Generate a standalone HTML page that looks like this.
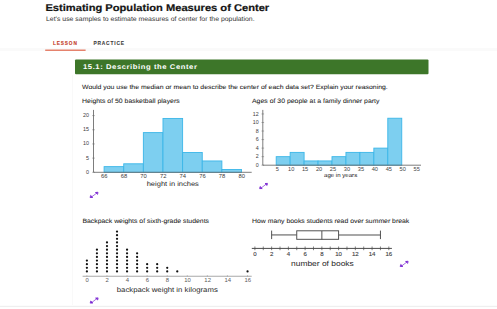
<!DOCTYPE html>
<html><head><meta charset="utf-8"><style>
html,body{margin:0;padding:0;background:#fff;width:497px;height:309px;overflow:hidden}
svg{position:absolute;left:0;top:0;font-family:"Liberation Sans",sans-serif}
</style></head><body>
<svg width="497" height="309" viewBox="0 0 497 309">
<text x="45.40" y="10.90" font-size="9.8" font-weight="bold" fill="#151515" text-anchor="start" textLength="223.8" lengthAdjust="spacingAndGlyphs" stroke="#151515" stroke-width="0.2" text-rendering="geometricPrecision" >Estimating Population Measures of Center</text>
<text x="46.00" y="20.90" font-size="6.5" font-weight="normal" fill="#383838" text-anchor="start" textLength="208.6" lengthAdjust="spacingAndGlyphs" stroke="#383838" stroke-width="0.03" text-rendering="geometricPrecision" >Let&#8217;s use samples to estimate measures of center for the population.</text>
<text x="53.00" y="44.90" font-size="4.6" font-weight="bold" fill="#c4402a" text-anchor="start" textLength="24.7" lengthAdjust="spacingAndGlyphs" letter-spacing="0.85" stroke="#c4402a" stroke-width="0.12" >LESSON</text>
<rect x="0" y="48" width="497" height="3" fill="#fafafa"/>
<rect x="45.2" y="49.5" width="40.4" height="1.5" fill="#e5826d"/>
<text x="93.40" y="44.90" font-size="4.6" font-weight="bold" fill="#3c3c3c" text-anchor="start" textLength="31.4" lengthAdjust="spacingAndGlyphs" letter-spacing="0.8" stroke="#3c3c3c" stroke-width="0.1" >PRACTICE</text>
<rect x="75" y="59.4" width="353.5" height="14.8" rx="1" fill="#3d7629"/>
<text x="83.00" y="69.20" font-size="6.8" font-weight="bold" fill="#ffffff" text-anchor="start" textLength="114.5" lengthAdjust="spacingAndGlyphs" letter-spacing="0.5" text-rendering="geometricPrecision" >15.1: Describing the Center</text>
<text x="82.00" y="88.90" font-size="6.15" font-weight="normal" fill="#262626" text-anchor="start" textLength="305.8" lengthAdjust="spacingAndGlyphs" stroke="#262626" stroke-width="0.06" text-rendering="geometricPrecision" >Would you use the median or mean to describe the center of each data set? Explain your reasoning.</text>
<text x="82.10" y="102.50" font-size="6.3" font-weight="normal" fill="#262626" text-anchor="start" textLength="97.6" lengthAdjust="spacingAndGlyphs" stroke="#262626" stroke-width="0.06" text-rendering="geometricPrecision" >Heights of 50 basketball players</text>
<text x="252.00" y="102.50" font-size="6.3" font-weight="normal" fill="#262626" text-anchor="start" textLength="127.4" lengthAdjust="spacingAndGlyphs" stroke="#262626" stroke-width="0.06" text-rendering="geometricPrecision" >Ages of 30 people at a family dinner party</text>
<text x="82.40" y="222.80" font-size="6.3" font-weight="normal" fill="#262626" text-anchor="start" textLength="126.6" lengthAdjust="spacingAndGlyphs" stroke="#262626" stroke-width="0.06" text-rendering="geometricPrecision" >Backpack weights of sixth-grade students</text>
<text x="252.10" y="222.80" font-size="6.3" font-weight="normal" fill="#262626" text-anchor="start" textLength="157.2" lengthAdjust="spacingAndGlyphs" stroke="#262626" stroke-width="0.06" text-rendering="geometricPrecision" >How many books students read over summer break</text>
<rect x="104.10" y="166.63" width="19.63" height="5.67" fill="#7dcff0" stroke="#3bb6e8" stroke-width="0.9"/>
<rect x="123.73" y="163.80" width="19.63" height="8.50" fill="#7dcff0" stroke="#3bb6e8" stroke-width="0.9"/>
<rect x="143.36" y="132.61" width="19.63" height="39.69" fill="#7dcff0" stroke="#3bb6e8" stroke-width="0.9"/>
<rect x="162.99" y="118.44" width="19.63" height="53.87" fill="#7dcff0" stroke="#3bb6e8" stroke-width="0.9"/>
<rect x="182.62" y="152.46" width="19.63" height="19.84" fill="#7dcff0" stroke="#3bb6e8" stroke-width="0.9"/>
<rect x="202.25" y="160.96" width="19.63" height="11.34" fill="#7dcff0" stroke="#3bb6e8" stroke-width="0.9"/>
<rect x="221.88" y="169.47" width="19.63" height="2.83" fill="#7dcff0" stroke="#3bb6e8" stroke-width="0.9"/>
<line x1="93.5" y1="109.9" x2="93.5" y2="172.3" stroke="#666666" stroke-width="0.85"/>
<line x1="93.5" y1="172.3" x2="251.7" y2="172.3" stroke="#666666" stroke-width="0.85"/>
<line x1="92.2" y1="172.30" x2="94.8" y2="172.30" stroke="#666666" stroke-width="0.5"/>
<text x="89.10" y="173.80" font-size="5.3" font-weight="normal" fill="#3c3c3c" text-anchor="end" textLength="3.0" lengthAdjust="spacingAndGlyphs" >0</text>
<line x1="92.2" y1="158.12" x2="94.8" y2="158.12" stroke="#666666" stroke-width="0.5"/>
<text x="89.10" y="159.62" font-size="5.3" font-weight="normal" fill="#3c3c3c" text-anchor="end" textLength="3.0" lengthAdjust="spacingAndGlyphs" >5</text>
<line x1="92.2" y1="143.95" x2="94.8" y2="143.95" stroke="#666666" stroke-width="0.5"/>
<text x="89.10" y="145.45" font-size="5.3" font-weight="normal" fill="#3c3c3c" text-anchor="end" textLength="6.0" lengthAdjust="spacingAndGlyphs" >10</text>
<line x1="92.2" y1="129.78" x2="94.8" y2="129.78" stroke="#666666" stroke-width="0.5"/>
<text x="89.10" y="131.28" font-size="5.3" font-weight="normal" fill="#3c3c3c" text-anchor="end" textLength="6.0" lengthAdjust="spacingAndGlyphs" >15</text>
<line x1="92.2" y1="115.60" x2="94.8" y2="115.60" stroke="#666666" stroke-width="0.5"/>
<text x="89.10" y="117.10" font-size="5.3" font-weight="normal" fill="#3c3c3c" text-anchor="end" textLength="6.0" lengthAdjust="spacingAndGlyphs" >20</text>
<text x="104.30" y="177.60" font-size="4.9" font-weight="normal" fill="#383838" text-anchor="middle" textLength="6.5" lengthAdjust="spacingAndGlyphs" >66</text>
<text x="123.93" y="177.60" font-size="4.9" font-weight="normal" fill="#383838" text-anchor="middle" textLength="6.5" lengthAdjust="spacingAndGlyphs" >68</text>
<text x="143.56" y="177.60" font-size="4.9" font-weight="normal" fill="#383838" text-anchor="middle" textLength="6.5" lengthAdjust="spacingAndGlyphs" >70</text>
<text x="163.19" y="177.60" font-size="4.9" font-weight="normal" fill="#383838" text-anchor="middle" textLength="6.5" lengthAdjust="spacingAndGlyphs" >72</text>
<text x="182.82" y="177.60" font-size="4.9" font-weight="normal" fill="#383838" text-anchor="middle" textLength="6.5" lengthAdjust="spacingAndGlyphs" >74</text>
<text x="202.45" y="177.60" font-size="4.9" font-weight="normal" fill="#383838" text-anchor="middle" textLength="6.5" lengthAdjust="spacingAndGlyphs" >76</text>
<text x="222.08" y="177.60" font-size="4.9" font-weight="normal" fill="#383838" text-anchor="middle" textLength="6.5" lengthAdjust="spacingAndGlyphs" >78</text>
<text x="241.71" y="177.60" font-size="4.9" font-weight="normal" fill="#383838" text-anchor="middle" textLength="6.5" lengthAdjust="spacingAndGlyphs" >80</text>
<text x="146.70" y="185.60" font-size="6.6" font-weight="normal" fill="#262626" text-anchor="start" textLength="52.2" lengthAdjust="spacingAndGlyphs" text-rendering="geometricPrecision" >height in inches</text>
<rect x="276.20" y="156.66" width="13.95" height="8.54" fill="#7dcff0" stroke="#3bb6e8" stroke-width="0.9"/>
<rect x="290.15" y="152.39" width="13.95" height="12.81" fill="#7dcff0" stroke="#3bb6e8" stroke-width="0.9"/>
<rect x="304.10" y="160.93" width="13.95" height="4.27" fill="#7dcff0" stroke="#3bb6e8" stroke-width="0.9"/>
<rect x="318.05" y="160.93" width="13.95" height="4.27" fill="#7dcff0" stroke="#3bb6e8" stroke-width="0.9"/>
<rect x="332.00" y="156.66" width="13.95" height="8.54" fill="#7dcff0" stroke="#3bb6e8" stroke-width="0.9"/>
<rect x="345.95" y="152.39" width="13.95" height="12.81" fill="#7dcff0" stroke="#3bb6e8" stroke-width="0.9"/>
<rect x="359.90" y="152.39" width="13.95" height="12.81" fill="#7dcff0" stroke="#3bb6e8" stroke-width="0.9"/>
<rect x="373.85" y="148.12" width="13.95" height="17.08" fill="#7dcff0" stroke="#3bb6e8" stroke-width="0.9"/>
<rect x="387.80" y="118.23" width="13.95" height="46.97" fill="#7dcff0" stroke="#3bb6e8" stroke-width="0.9"/>
<line x1="262.8" y1="109.9" x2="262.8" y2="165.2" stroke="#666666" stroke-width="0.85"/>
<line x1="262.8" y1="165.2" x2="421" y2="165.2" stroke="#666666" stroke-width="0.85"/>
<line x1="261.5" y1="165.20" x2="264.1" y2="165.20" stroke="#666666" stroke-width="0.5"/>
<text x="258.60" y="167.00" font-size="5.0" font-weight="normal" fill="#3c3c3c" text-anchor="end" textLength="2.95" lengthAdjust="spacingAndGlyphs" >0</text>
<line x1="261.5" y1="156.66" x2="264.1" y2="156.66" stroke="#666666" stroke-width="0.5"/>
<text x="258.60" y="158.46" font-size="5.0" font-weight="normal" fill="#3c3c3c" text-anchor="end" textLength="2.95" lengthAdjust="spacingAndGlyphs" >2</text>
<line x1="261.5" y1="148.12" x2="264.1" y2="148.12" stroke="#666666" stroke-width="0.5"/>
<text x="258.60" y="149.92" font-size="5.0" font-weight="normal" fill="#3c3c3c" text-anchor="end" textLength="2.95" lengthAdjust="spacingAndGlyphs" >4</text>
<line x1="261.5" y1="139.58" x2="264.1" y2="139.58" stroke="#666666" stroke-width="0.5"/>
<text x="258.60" y="141.38" font-size="5.0" font-weight="normal" fill="#3c3c3c" text-anchor="end" textLength="2.95" lengthAdjust="spacingAndGlyphs" >6</text>
<line x1="261.5" y1="131.04" x2="264.1" y2="131.04" stroke="#666666" stroke-width="0.5"/>
<text x="258.60" y="132.84" font-size="5.0" font-weight="normal" fill="#3c3c3c" text-anchor="end" textLength="2.95" lengthAdjust="spacingAndGlyphs" >8</text>
<line x1="261.5" y1="122.50" x2="264.1" y2="122.50" stroke="#666666" stroke-width="0.5"/>
<text x="258.60" y="124.30" font-size="5.0" font-weight="normal" fill="#3c3c3c" text-anchor="end" textLength="5.9" lengthAdjust="spacingAndGlyphs" >10</text>
<line x1="261.5" y1="113.96" x2="264.1" y2="113.96" stroke="#666666" stroke-width="0.5"/>
<text x="258.60" y="115.76" font-size="5.0" font-weight="normal" fill="#3c3c3c" text-anchor="end" textLength="5.9" lengthAdjust="spacingAndGlyphs" >12</text>
<text x="277.20" y="170.60" font-size="5.2" font-weight="normal" fill="#454545" text-anchor="middle" textLength="3.15" lengthAdjust="spacingAndGlyphs" >5</text>
<text x="291.15" y="170.60" font-size="5.2" font-weight="normal" fill="#454545" text-anchor="middle" textLength="6.3" lengthAdjust="spacingAndGlyphs" >10</text>
<text x="305.10" y="170.60" font-size="5.2" font-weight="normal" fill="#454545" text-anchor="middle" textLength="6.3" lengthAdjust="spacingAndGlyphs" >15</text>
<text x="319.05" y="170.60" font-size="5.2" font-weight="normal" fill="#454545" text-anchor="middle" textLength="6.3" lengthAdjust="spacingAndGlyphs" >20</text>
<text x="333.00" y="170.60" font-size="5.2" font-weight="normal" fill="#454545" text-anchor="middle" textLength="6.3" lengthAdjust="spacingAndGlyphs" >25</text>
<text x="346.95" y="170.60" font-size="5.2" font-weight="normal" fill="#454545" text-anchor="middle" textLength="6.3" lengthAdjust="spacingAndGlyphs" >30</text>
<text x="360.90" y="170.60" font-size="5.2" font-weight="normal" fill="#454545" text-anchor="middle" textLength="6.3" lengthAdjust="spacingAndGlyphs" >35</text>
<text x="374.85" y="170.60" font-size="5.2" font-weight="normal" fill="#454545" text-anchor="middle" textLength="6.3" lengthAdjust="spacingAndGlyphs" >40</text>
<text x="388.80" y="170.60" font-size="5.2" font-weight="normal" fill="#454545" text-anchor="middle" textLength="6.3" lengthAdjust="spacingAndGlyphs" >45</text>
<text x="402.75" y="170.60" font-size="5.2" font-weight="normal" fill="#454545" text-anchor="middle" textLength="6.3" lengthAdjust="spacingAndGlyphs" >50</text>
<text x="416.70" y="170.60" font-size="5.2" font-weight="normal" fill="#454545" text-anchor="middle" textLength="6.3" lengthAdjust="spacingAndGlyphs" >55</text>
<text x="324.00" y="177.00" font-size="5.7" font-weight="normal" fill="#262626" text-anchor="start" textLength="33.2" lengthAdjust="spacingAndGlyphs" stroke="#262626" stroke-width="0.03" text-rendering="geometricPrecision" >age in years</text>
<line x1="82.6" y1="276.2" x2="251.7" y2="276.2" stroke="#a8a8a8" stroke-width="1.1"/>
<line x1="86.9" y1="275" x2="86.9" y2="277" stroke="#a8a8a8" stroke-width="0.6"/>
<text x="87.20" y="282.20" font-size="5.3" font-weight="normal" fill="#5a5a5a" text-anchor="middle" textLength="3.3" lengthAdjust="spacingAndGlyphs" >0</text>
<line x1="106.98" y1="275" x2="106.98" y2="277" stroke="#a8a8a8" stroke-width="0.6"/>
<text x="107.28" y="282.20" font-size="5.3" font-weight="normal" fill="#5a5a5a" text-anchor="middle" textLength="3.3" lengthAdjust="spacingAndGlyphs" >2</text>
<line x1="127.06" y1="275" x2="127.06" y2="277" stroke="#a8a8a8" stroke-width="0.6"/>
<text x="127.36" y="282.20" font-size="5.3" font-weight="normal" fill="#5a5a5a" text-anchor="middle" textLength="3.3" lengthAdjust="spacingAndGlyphs" >4</text>
<line x1="147.14" y1="275" x2="147.14" y2="277" stroke="#a8a8a8" stroke-width="0.6"/>
<text x="147.44" y="282.20" font-size="5.3" font-weight="normal" fill="#5a5a5a" text-anchor="middle" textLength="3.3" lengthAdjust="spacingAndGlyphs" >6</text>
<line x1="167.22" y1="275" x2="167.22" y2="277" stroke="#a8a8a8" stroke-width="0.6"/>
<text x="167.52" y="282.20" font-size="5.3" font-weight="normal" fill="#5a5a5a" text-anchor="middle" textLength="3.3" lengthAdjust="spacingAndGlyphs" >8</text>
<line x1="187.3" y1="275" x2="187.3" y2="277" stroke="#a8a8a8" stroke-width="0.6"/>
<text x="187.60" y="282.20" font-size="5.3" font-weight="normal" fill="#5a5a5a" text-anchor="middle" textLength="6.6" lengthAdjust="spacingAndGlyphs" >10</text>
<line x1="207.38" y1="275" x2="207.38" y2="277" stroke="#a8a8a8" stroke-width="0.6"/>
<text x="207.68" y="282.20" font-size="5.3" font-weight="normal" fill="#5a5a5a" text-anchor="middle" textLength="6.6" lengthAdjust="spacingAndGlyphs" >12</text>
<line x1="227.46" y1="275" x2="227.46" y2="277" stroke="#a8a8a8" stroke-width="0.6"/>
<text x="227.76" y="282.20" font-size="5.3" font-weight="normal" fill="#5a5a5a" text-anchor="middle" textLength="6.6" lengthAdjust="spacingAndGlyphs" >14</text>
<line x1="247.54" y1="275" x2="247.54" y2="277" stroke="#a8a8a8" stroke-width="0.6"/>
<text x="247.84" y="282.20" font-size="5.3" font-weight="normal" fill="#5a5a5a" text-anchor="middle" textLength="6.6" lengthAdjust="spacingAndGlyphs" >16</text>
<circle cx="86.90" cy="271.40" r="1.12" fill="#111"/>
<circle cx="86.90" cy="267.78" r="1.12" fill="#111"/>
<circle cx="86.90" cy="264.16" r="1.12" fill="#111"/>
<circle cx="86.90" cy="260.54" r="1.12" fill="#111"/>
<circle cx="96.94" cy="271.40" r="1.12" fill="#111"/>
<circle cx="96.94" cy="267.78" r="1.12" fill="#111"/>
<circle cx="96.94" cy="264.16" r="1.12" fill="#111"/>
<circle cx="96.94" cy="260.54" r="1.12" fill="#111"/>
<circle cx="96.94" cy="256.92" r="1.12" fill="#111"/>
<circle cx="96.94" cy="253.30" r="1.12" fill="#111"/>
<circle cx="96.94" cy="249.68" r="1.12" fill="#111"/>
<circle cx="106.98" cy="271.40" r="1.12" fill="#111"/>
<circle cx="106.98" cy="267.78" r="1.12" fill="#111"/>
<circle cx="106.98" cy="264.16" r="1.12" fill="#111"/>
<circle cx="106.98" cy="260.54" r="1.12" fill="#111"/>
<circle cx="106.98" cy="256.92" r="1.12" fill="#111"/>
<circle cx="106.98" cy="253.30" r="1.12" fill="#111"/>
<circle cx="106.98" cy="249.68" r="1.12" fill="#111"/>
<circle cx="106.98" cy="246.06" r="1.12" fill="#111"/>
<circle cx="106.98" cy="242.44" r="1.12" fill="#111"/>
<circle cx="117.02" cy="271.40" r="1.12" fill="#111"/>
<circle cx="117.02" cy="267.78" r="1.12" fill="#111"/>
<circle cx="117.02" cy="264.16" r="1.12" fill="#111"/>
<circle cx="117.02" cy="260.54" r="1.12" fill="#111"/>
<circle cx="117.02" cy="256.92" r="1.12" fill="#111"/>
<circle cx="117.02" cy="253.30" r="1.12" fill="#111"/>
<circle cx="117.02" cy="249.68" r="1.12" fill="#111"/>
<circle cx="117.02" cy="246.06" r="1.12" fill="#111"/>
<circle cx="117.02" cy="242.44" r="1.12" fill="#111"/>
<circle cx="117.02" cy="238.82" r="1.12" fill="#111"/>
<circle cx="117.02" cy="235.20" r="1.12" fill="#111"/>
<circle cx="117.02" cy="231.58" r="1.12" fill="#111"/>
<circle cx="127.06" cy="271.40" r="1.12" fill="#111"/>
<circle cx="127.06" cy="267.78" r="1.12" fill="#111"/>
<circle cx="127.06" cy="264.16" r="1.12" fill="#111"/>
<circle cx="127.06" cy="260.54" r="1.12" fill="#111"/>
<circle cx="127.06" cy="256.92" r="1.12" fill="#111"/>
<circle cx="127.06" cy="253.30" r="1.12" fill="#111"/>
<circle cx="127.06" cy="249.68" r="1.12" fill="#111"/>
<circle cx="137.10" cy="271.40" r="1.12" fill="#111"/>
<circle cx="137.10" cy="267.78" r="1.12" fill="#111"/>
<circle cx="137.10" cy="264.16" r="1.12" fill="#111"/>
<circle cx="137.10" cy="260.54" r="1.12" fill="#111"/>
<circle cx="137.10" cy="256.92" r="1.12" fill="#111"/>
<circle cx="137.10" cy="253.30" r="1.12" fill="#111"/>
<circle cx="147.14" cy="271.40" r="1.12" fill="#111"/>
<circle cx="147.14" cy="267.78" r="1.12" fill="#111"/>
<circle cx="147.14" cy="264.16" r="1.12" fill="#111"/>
<circle cx="157.18" cy="271.40" r="1.12" fill="#111"/>
<circle cx="157.18" cy="267.78" r="1.12" fill="#111"/>
<circle cx="157.18" cy="264.16" r="1.12" fill="#111"/>
<circle cx="167.22" cy="271.40" r="1.12" fill="#111"/>
<circle cx="167.22" cy="267.78" r="1.12" fill="#111"/>
<circle cx="177.26" cy="271.40" r="1.12" fill="#111"/>
<circle cx="247.54" cy="271.40" r="1.12" fill="#111"/>
<text x="116.80" y="292.00" font-size="6.9" font-weight="normal" fill="#262626" text-anchor="start" textLength="101" lengthAdjust="spacingAndGlyphs" text-rendering="geometricPrecision" >backpack weight in kilograms</text>
<line x1="251.8" y1="248.4" x2="391.9" y2="248.4" stroke="#4a4a4a" stroke-width="1"/>
<line x1="254.90" y1="246.5" x2="254.90" y2="250.2" stroke="#4a4a4a" stroke-width="0.7"/>
<text x="254.90" y="255.70" font-size="4.9" font-weight="normal" fill="#3e3e3e" text-anchor="middle" textLength="3.4" lengthAdjust="spacingAndGlyphs" stroke="#3e3e3e" stroke-width="0.1" >0</text>
<line x1="263.27" y1="246.5" x2="263.27" y2="250.2" stroke="#4a4a4a" stroke-width="0.7"/>
<line x1="271.64" y1="246.5" x2="271.64" y2="250.2" stroke="#4a4a4a" stroke-width="0.7"/>
<text x="271.64" y="255.70" font-size="4.9" font-weight="normal" fill="#3e3e3e" text-anchor="middle" textLength="3.4" lengthAdjust="spacingAndGlyphs" stroke="#3e3e3e" stroke-width="0.1" >2</text>
<line x1="280.01" y1="246.5" x2="280.01" y2="250.2" stroke="#4a4a4a" stroke-width="0.7"/>
<line x1="288.38" y1="246.5" x2="288.38" y2="250.2" stroke="#4a4a4a" stroke-width="0.7"/>
<text x="288.38" y="255.70" font-size="4.9" font-weight="normal" fill="#3e3e3e" text-anchor="middle" textLength="3.4" lengthAdjust="spacingAndGlyphs" stroke="#3e3e3e" stroke-width="0.1" >4</text>
<line x1="296.75" y1="246.5" x2="296.75" y2="250.2" stroke="#4a4a4a" stroke-width="0.7"/>
<line x1="305.12" y1="246.5" x2="305.12" y2="250.2" stroke="#4a4a4a" stroke-width="0.7"/>
<text x="305.12" y="255.70" font-size="4.9" font-weight="normal" fill="#3e3e3e" text-anchor="middle" textLength="3.4" lengthAdjust="spacingAndGlyphs" stroke="#3e3e3e" stroke-width="0.1" >6</text>
<line x1="313.49" y1="246.5" x2="313.49" y2="250.2" stroke="#4a4a4a" stroke-width="0.7"/>
<line x1="321.86" y1="246.5" x2="321.86" y2="250.2" stroke="#4a4a4a" stroke-width="0.7"/>
<text x="321.86" y="255.70" font-size="4.9" font-weight="normal" fill="#3e3e3e" text-anchor="middle" textLength="3.4" lengthAdjust="spacingAndGlyphs" stroke="#3e3e3e" stroke-width="0.1" >8</text>
<line x1="330.23" y1="246.5" x2="330.23" y2="250.2" stroke="#4a4a4a" stroke-width="0.7"/>
<line x1="338.60" y1="246.5" x2="338.60" y2="250.2" stroke="#4a4a4a" stroke-width="0.7"/>
<text x="338.60" y="255.70" font-size="4.9" font-weight="normal" fill="#3e3e3e" text-anchor="middle" textLength="6.8" lengthAdjust="spacingAndGlyphs" stroke="#3e3e3e" stroke-width="0.1" >10</text>
<line x1="346.97" y1="246.5" x2="346.97" y2="250.2" stroke="#4a4a4a" stroke-width="0.7"/>
<line x1="355.34" y1="246.5" x2="355.34" y2="250.2" stroke="#4a4a4a" stroke-width="0.7"/>
<text x="355.34" y="255.70" font-size="4.9" font-weight="normal" fill="#3e3e3e" text-anchor="middle" textLength="6.8" lengthAdjust="spacingAndGlyphs" stroke="#3e3e3e" stroke-width="0.1" >12</text>
<line x1="363.71" y1="246.5" x2="363.71" y2="250.2" stroke="#4a4a4a" stroke-width="0.7"/>
<line x1="372.08" y1="246.5" x2="372.08" y2="250.2" stroke="#4a4a4a" stroke-width="0.7"/>
<text x="372.08" y="255.70" font-size="4.9" font-weight="normal" fill="#3e3e3e" text-anchor="middle" textLength="6.8" lengthAdjust="spacingAndGlyphs" stroke="#3e3e3e" stroke-width="0.1" >14</text>
<line x1="380.45" y1="246.5" x2="380.45" y2="250.2" stroke="#4a4a4a" stroke-width="0.7"/>
<line x1="388.82" y1="246.5" x2="388.82" y2="250.2" stroke="#4a4a4a" stroke-width="0.7"/>
<text x="388.82" y="255.70" font-size="4.9" font-weight="normal" fill="#3e3e3e" text-anchor="middle" textLength="6.8" lengthAdjust="spacingAndGlyphs" stroke="#3e3e3e" stroke-width="0.1" >16</text>
<line x1="271.64" y1="234.9" x2="296.75" y2="234.9" stroke="#8a8a8a" stroke-width="1.5"/>
<line x1="338.60" y1="234.9" x2="380.45" y2="234.9" stroke="#8a8a8a" stroke-width="1.5"/>
<rect x="296.75" y="230.8" width="41.85" height="8.5" fill="#fff" stroke="#4a4a4a" stroke-width="0.95"/>
<line x1="321.86" y1="231.0" x2="321.86" y2="239.5" stroke="#4a4a4a" stroke-width="0.95"/>
<line x1="271.64" y1="230.6" x2="271.64" y2="239.1" stroke="#4a4a4a" stroke-width="0.95"/>
<line x1="380.45" y1="230.6" x2="380.45" y2="239.1" stroke="#4a4a4a" stroke-width="0.95"/>
<text x="291.00" y="266.00" font-size="7.4" font-weight="normal" fill="#262626" text-anchor="start" textLength="62.8" lengthAdjust="spacingAndGlyphs" text-rendering="geometricPrecision" >number of books</text>
<g transform="translate(90,198.4)" stroke="#7620d0" fill="#7620d0" stroke-linejoin="round" stroke-linecap="round"><line x1="2.3" y1="-2.0" x2="6.0" y2="-4.8" stroke-width="0.65"/><path d="M0.5 -0.9 L2.7 -1.0 L0.9 -2.7 Z" stroke-width="0.85"/><path d="M7.6 -6.1 L5.5 -5.9 L7.3 -4.3 Z" stroke-width="0.85"/></g>
<g transform="translate(259.5,189.5)" stroke="#7620d0" fill="#7620d0" stroke-linejoin="round" stroke-linecap="round"><line x1="2.3" y1="-2.0" x2="6.0" y2="-4.8" stroke-width="0.65"/><path d="M0.5 -0.9 L2.7 -1.0 L0.9 -2.7 Z" stroke-width="0.85"/><path d="M7.6 -6.1 L5.5 -5.9 L7.3 -4.3 Z" stroke-width="0.85"/></g>
<g transform="translate(90.1,304.0)" stroke="#7620d0" fill="#7620d0" stroke-linejoin="round" stroke-linecap="round"><line x1="2.3" y1="-2.0" x2="6.0" y2="-4.8" stroke-width="0.65"/><path d="M0.5 -0.9 L2.7 -1.0 L0.9 -2.7 Z" stroke-width="0.85"/><path d="M7.6 -6.1 L5.5 -5.9 L7.3 -4.3 Z" stroke-width="0.85"/></g>
<g transform="translate(400.1,267.4)" stroke="#7620d0" fill="#7620d0" stroke-linejoin="round" stroke-linecap="round"><line x1="2.3" y1="-2.0" x2="6.0" y2="-4.8" stroke-width="0.65"/><path d="M0.5 -0.9 L2.7 -1.0 L0.9 -2.7 Z" stroke-width="0.85"/><path d="M7.6 -6.1 L5.5 -5.9 L7.3 -4.3 Z" stroke-width="0.85"/></g>
<rect x="0" y="305.8" width="497" height="1.3" fill="#efefef"/>
<rect x="72" y="75" width="0.8" height="230" fill="#f8f8f8"/>
</svg>
</body></html>
